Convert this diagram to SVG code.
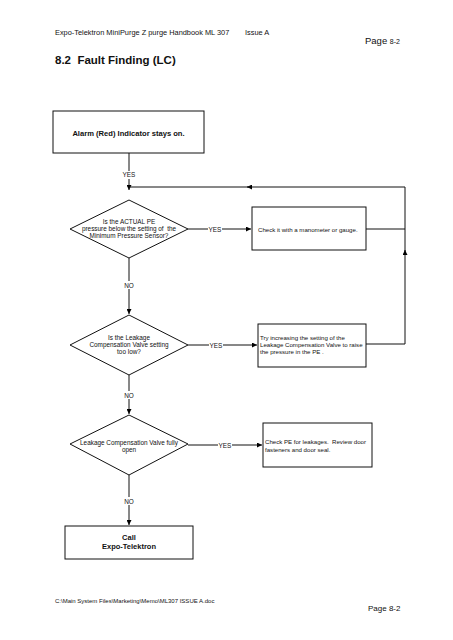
<svg xmlns="http://www.w3.org/2000/svg" width="453" height="640" viewBox="0 0 453 640">
<defs>
<marker id="ah" viewBox="0 0 6 6" refX="6" refY="3" markerWidth="5" markerHeight="5" orient="auto" markerUnits="userSpaceOnUse"><path d="M0,0 L6,3 L0,6 Z" fill="#000"/></marker>
</defs>
<style>
text{font-family:"Liberation Sans",Arial,sans-serif;fill:#111}
.n{fill:#fff;stroke:#111;stroke-width:1}
.c{fill:none;stroke:#111;stroke-width:1}
.t{font-size:6.1px}
.d{font-size:6.4px;text-anchor:middle}
.lb{font-size:6.4px;text-anchor:middle}
.m{text-anchor:middle}
</style>
<rect width="453" height="640" fill="#fff"/>
<g id="header">
<text x="55" y="35" font-size="7.4">Expo-Telektron MiniPurge Z purge Handbook ML 307</text>
<text x="245" y="35" font-size="7.4">Issue A</text>
<text x="365" y="44" font-size="9.5">Page <tspan font-size="7">8-2</tspan></text>
<text x="55" y="64" font-size="11.5" font-weight="bold" xml:space="preserve">8.2  Fault Finding (LC)</text>
</g>
<g id="connectors">
<path class="c" d="M129,153 V190" marker-end="url(#ah)"/>
<path class="c" d="M405,187 H247" marker-end="url(#ah)"/>
<path class="c" d="M250,187 H129"/>
<path class="c" d="M188,229 H251" marker-end="url(#ah)"/>
<path class="c" d="M366,229 H405"/>
<path class="c" d="M405,344 V250" marker-end="url(#ah)"/>
<path class="c" d="M405,252 V187"/>
<path class="c" d="M129,258 V314" marker-end="url(#ah)"/>
<path class="c" d="M188,345 H257" marker-end="url(#ah)"/>
<path class="c" d="M366,344 H405"/>
<path class="c" d="M129,375 V414" marker-end="url(#ah)"/>
<path class="c" d="M188,445 H262" marker-end="url(#ah)"/>
<path class="c" d="M129,475 V525" marker-end="url(#ah)"/>
<rect x="121" y="171" width="16" height="8" fill="#fff"/>
<text class="lb" x="129" y="177">YES</text>
<rect x="208" y="225" width="14" height="8" fill="#fff"/>
<text class="lb" x="215" y="231.5">YES</text>
<rect x="123" y="281" width="12" height="8" fill="#fff"/>
<text class="lb" x="129" y="288">NO</text>
<rect x="209" y="341" width="14" height="8" fill="#fff"/>
<text class="lb" x="216" y="347.5">YES</text>
<rect x="123" y="391" width="12" height="8" fill="#fff"/>
<text class="lb" x="129" y="398">NO</text>
<rect x="218" y="441" width="14" height="8" fill="#fff"/>
<text class="lb" x="225" y="447.5">YES</text>
<rect x="123" y="497" width="12" height="8" fill="#fff"/>
<text class="lb" x="129" y="504">NO</text>
</g>
<g id="alarm">
<rect class="n" x="53" y="111" width="151" height="42"/>
<text class="m" x="128.5" y="136" font-size="7.6" font-weight="bold">Alarm (Red) Indicator stays on.</text>
</g>
<g id="q1">
<polygon class="n" points="129,200 188,229 129,258 70,229"/>
<text class="d" x="129" y="224">Is the ACTUAL PE</text>
<text class="d" x="129" y="231" xml:space="preserve">pressure below the setting of  the</text>
<text class="d" x="129" y="238">Minimum Pressure Sensor?</text>
</g>
<g id="a1">
<rect class="n" x="252" y="207" width="114" height="43"/>
<text class="t" x="258" y="231.5">Check it with a manometer or gauge.</text>
</g>
<g id="q2">
<polygon class="n" points="129,315 188,345 129,375 70,345"/>
<text class="d" x="129" y="340">Is the Leakage</text>
<text class="d" x="129" y="347">Compensation Valve setting</text>
<text class="d" x="129" y="354">too low?</text>
</g>
<g id="a2">
<rect class="n" x="258" y="324" width="108" height="43"/>
<text class="t" x="260" y="340">Try increasing the setting of the</text>
<text class="t" x="260" y="347">Leakage Compensation Valve to raise</text>
<text class="t" x="260" y="354">the pressure in the PE .</text>
</g>
<g id="q3">
<polygon class="n" points="129,415 188,444 129,475 70,444"/>
<text class="d" x="129" y="445">Leakage Compensation Valve fully</text>
<text class="d" x="129" y="452">open</text>
</g>
<g id="a3">
<rect class="n" x="263" y="423" width="109" height="44"/>
<text class="t" x="265" y="444" xml:space="preserve">Check PE for leakages.  Review door</text>
<text class="t" x="265" y="452">fasteners and door seal.</text>
</g>
<g id="call">
<rect class="n" x="65" y="526" width="128" height="33"/>
<text class="m" x="129" y="540" font-size="7.5" font-weight="bold">Call</text>
<text class="m" x="129" y="549" font-size="7.5" font-weight="bold">Expo-Telektron</text>
</g>
<g id="footer">
<text x="55" y="603" font-size="6">C:\Main System Files\Marketing\Memo\ML307 ISSUE A.doc</text>
<text x="368" y="611" font-size="8">Page 8-2</text>
</g>
</svg>
